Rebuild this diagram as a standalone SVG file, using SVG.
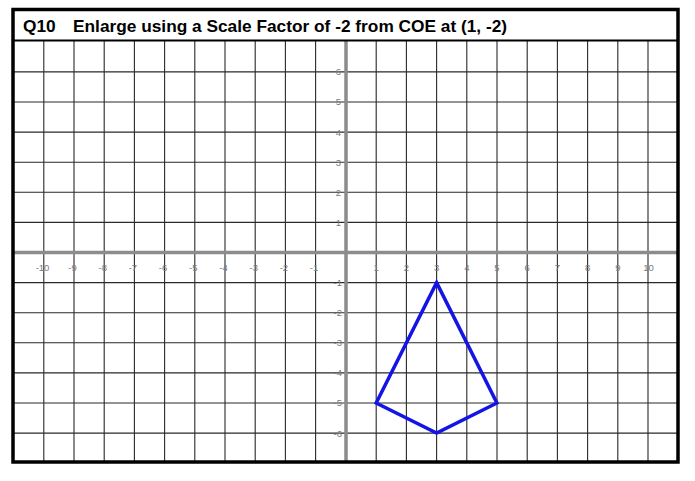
<svg xmlns="http://www.w3.org/2000/svg" width="695" height="481" viewBox="0 0 695 481">
<style>
.g{stroke:#2a2a2a;stroke-width:1.1;fill:none}
.ax{stroke:#8c8c8c;stroke-width:3.5;fill:none}
.lx{font-family:"Liberation Sans",Arial,sans-serif;font-size:9.5px;fill:#7a7a7a;text-anchor:middle}
.ly{font-family:"Liberation Sans",Arial,sans-serif;font-size:9.5px;fill:#7a7a7a;text-anchor:end}
.t{font-family:"Liberation Sans",Arial,sans-serif;font-size:17.3px;font-weight:bold;fill:#000}
</style>
<rect width="695" height="481" fill="#fff"/>
<g id="grid">
<path class="g" d="M43.8 40.5V463M74 40.5V463M104.2 40.5V463M134.4 40.5V463M164.6 40.5V463M194.8 40.5V463M225 40.5V463M255.2 40.5V463M285.4 40.5V463M315.6 40.5V463M376.2 40.5V463M406.4 40.5V463M436.6 40.5V463M466.8 40.5V463M497 40.5V463M527.2 40.5V463M557.4 40.5V463M587.6 40.5V463M617.8 40.5V463M648 40.5V463"/>
<path class="g" d="M13 71.9H679M13 102H679M13 132.1H679M13 162.2H679M13 192.3H679M13 222.4H679M13 282.6H679M13 312.7H679M13 342.8H679M13 372.9H679M13 403H679M13 433.1H679"/>
</g>
<g id="axes">
<path class="ax" d="M13 252.5H679M346 40.5V463"/>
</g>
<g id="x-labels">
<text class="lx" x="42.5" y="271">-10</text>
<text class="lx" x="72.5" y="271">-9</text>
<text class="lx" x="102.7" y="271">-8</text>
<text class="lx" x="132.9" y="271">-7</text>
<text class="lx" x="163.1" y="271">-6</text>
<text class="lx" x="193.3" y="271">-5</text>
<text class="lx" x="223.5" y="271">-4</text>
<text class="lx" x="253.7" y="271">-3</text>
<text class="lx" x="283.9" y="271">-2</text>
<text class="lx" x="314.1" y="271">-1</text>
<text class="lx" x="376.2" y="271">1</text>
<text class="lx" x="406.4" y="271">2</text>
<text class="lx" x="436.6" y="271">3</text>
<text class="lx" x="466.8" y="271">4</text>
<text class="lx" x="497" y="271">5</text>
<text class="lx" x="527.2" y="271">6</text>
<text class="lx" x="557.4" y="271">7</text>
<text class="lx" x="587.6" y="271">8</text>
<text class="lx" x="617.8" y="271">9</text>
<text class="lx" x="648.5" y="271">10</text>
</g>
<g id="y-labels">
<text class="ly" x="341" y="75.3">6</text>
<text class="ly" x="341" y="105.4">5</text>
<text class="ly" x="341" y="135.5">4</text>
<text class="ly" x="341" y="165.6">3</text>
<text class="ly" x="341" y="195.7">2</text>
<text class="ly" x="341" y="225.8">1</text>
<text class="ly" x="342" y="286">-1</text>
<text class="ly" x="342" y="316.1">-2</text>
<text class="ly" x="342" y="346.2">-3</text>
<text class="ly" x="342" y="376.3">-4</text>
<text class="ly" x="342" y="406.4">-5</text>
<text class="ly" x="342" y="436.5">-6</text>
</g>
<g id="kite">
<polygon points="436.6,282.6 496.9,403 436.6,433.1 376.2,403" fill="none" stroke="#1414e6" stroke-width="3.5" stroke-linejoin="miter"/>
</g>
<g id="frame">
<rect x="13" y="9.5" width="665" height="452.5" fill="none" stroke="#000" stroke-width="3.5"/>
<line x1="13" y1="40.5" x2="678" y2="40.5" stroke="#000" stroke-width="2"/>
</g>
<g id="title">
<text class="t" x="23" y="32">Q10</text>
<text class="t" x="73" y="32">Enlarge using a Scale Factor of -2 from COE at (1, -2)</text>
</g>
</svg>
